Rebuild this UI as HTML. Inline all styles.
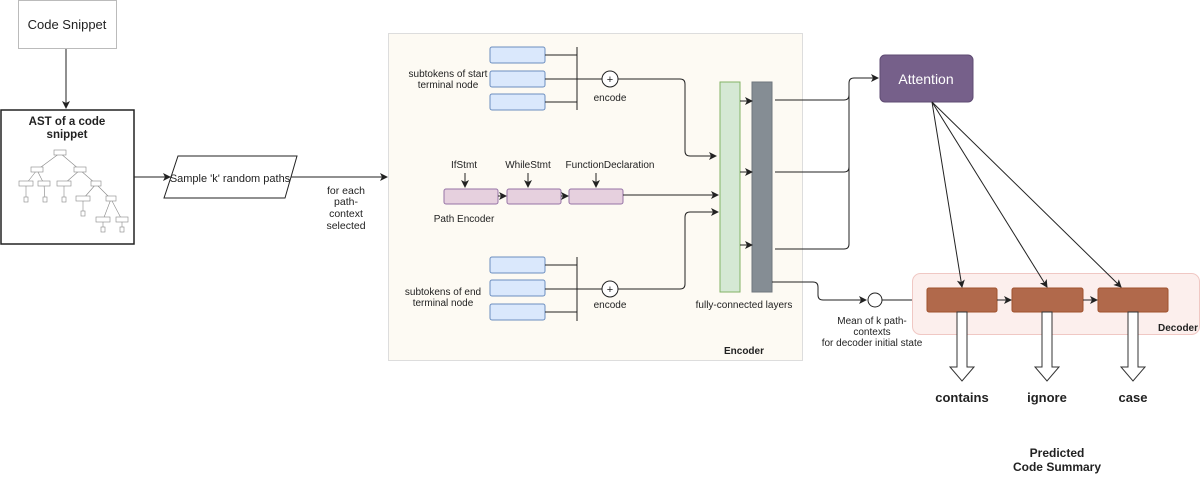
<!DOCTYPE html>
<html><head><meta charset="utf-8"><style>
body{margin:0;background:#fff}
text{font-family:"Liberation Sans",sans-serif;fill:#222}
</style></head><body>
<svg width="1200" height="477" viewBox="0 0 1200 477" xmlns="http://www.w3.org/2000/svg">
<defs>
<marker id="a" markerWidth="8" markerHeight="8" refX="7" refY="4" orient="auto" markerUnits="userSpaceOnUse"><path d="M0,0 L8,4 L0,8 L2,4z" fill="#222"/></marker>
</defs>
<!-- Code snippet -->
<rect x="18.5" y="0.5" width="98" height="48" fill="#fff" stroke="#bbb"/>
<text x="67" y="29" font-size="13" text-anchor="middle">Code Snippet</text>
<line x1="66" y1="49" x2="66" y2="108" stroke="#222" marker-end="url(#a)"/>
<!-- AST -->
<rect x="1" y="110" width="133" height="134" fill="#fff" stroke="#222" stroke-width="1.5"/>
<text x="67" y="125" font-size="11.5" font-weight="bold" text-anchor="middle">AST of a code</text>
<text x="67" y="138" font-size="11.5" font-weight="bold" text-anchor="middle">snippet</text>
<g stroke="#888" stroke-width="0.6" fill="#fff">
<line x1="60" y1="153" x2="37" y2="170"/><line x1="60" y1="153" x2="80" y2="170"/>
<line x1="37" y1="170" x2="26" y2="184"/><line x1="37" y1="170" x2="44" y2="184"/>
<line x1="80" y1="170" x2="64" y2="184"/><line x1="80" y1="170" x2="96" y2="184"/>
<line x1="26" y1="184" x2="26" y2="200"/><line x1="44" y1="184" x2="45" y2="200"/><line x1="64" y1="184" x2="64" y2="200"/>
<line x1="96" y1="184" x2="83" y2="199"/><line x1="96" y1="184" x2="111" y2="199"/>
<line x1="83" y1="199" x2="83" y2="213"/><line x1="111" y1="199" x2="103" y2="220"/><line x1="111" y1="199" x2="122" y2="220"/>
<line x1="103" y1="220" x2="103" y2="230"/><line x1="122" y1="220" x2="122" y2="230"/>
<rect x="54" y="150" width="12" height="5"/><rect x="31" y="167" width="12" height="5"/><rect x="74" y="167" width="12" height="5"/>
<rect x="19" y="181" width="14" height="5"/><rect x="38" y="181" width="12" height="5"/><rect x="57" y="181" width="14" height="5"/><rect x="91" y="181" width="10" height="5"/>
<rect x="24" y="197" width="4" height="5"/><rect x="43" y="197" width="4" height="5"/><rect x="62" y="197" width="4" height="5"/>
<rect x="76" y="196" width="14" height="5"/><rect x="106" y="196" width="10" height="5"/>
<rect x="81" y="211" width="4" height="5"/><rect x="96" y="217" width="14" height="5"/><rect x="116" y="217" width="12" height="5"/>
<rect x="101" y="227" width="4" height="5"/><rect x="120" y="227" width="4" height="5"/>
</g>
<line x1="134" y1="177" x2="170" y2="177" stroke="#222" marker-end="url(#a)"/>
<polygon points="178,156 297,156 285,198 164,198" fill="#fff" stroke="#222"/>
<text x="230" y="182" font-size="11" text-anchor="middle">Sample 'k' random paths</text>
<line x1="291" y1="177" x2="387" y2="177" stroke="#222" marker-end="url(#a)"/>
<g font-size="10.5" text-anchor="middle"><text x="346" y="194">for each</text><text x="346" y="205">path-</text><text x="346" y="217">context</text><text x="346" y="229">selected</text></g>
<!-- Encoder -->
<rect x="388.5" y="33.5" width="414" height="327" fill="#fdfaf3" stroke="#ddd"/>
<g fill="#dae8fc" stroke="#6c8ebf">
<rect x="490" y="47" width="55" height="16" rx="2"/><rect x="490" y="71" width="55" height="16" rx="2"/><rect x="490" y="94" width="55" height="16" rx="2"/>
<rect x="490" y="257" width="55" height="16" rx="2"/><rect x="490" y="280" width="55" height="16" rx="2"/><rect x="490" y="304" width="55" height="16" rx="2"/>
</g>
<g stroke="#222" fill="none">
<line x1="577" y1="47" x2="577" y2="110"/><line x1="545" y1="55" x2="577" y2="55"/><line x1="545" y1="79" x2="602" y2="79"/><line x1="545" y1="102" x2="577" y2="102"/>
<line x1="577" y1="257" x2="577" y2="321"/><line x1="545" y1="265" x2="577" y2="265"/><line x1="545" y1="289" x2="602" y2="289"/><line x1="545" y1="312" x2="577" y2="312"/>
<path d="M618,79 H680 Q685,79 685,84 V151 Q685,156 690,156 H716" marker-end="url(#a)"/>
<path d="M618,289 H680 Q685,289 685,284 V217 Q685,212 690,212 H718" marker-end="url(#a)"/>
<circle cx="610" cy="79" r="8" fill="#fff"/><circle cx="610" cy="289" r="8" fill="#fff"/>
</g>
<text x="610" y="83" font-size="11" text-anchor="middle">+</text><text x="610" y="293" font-size="11" text-anchor="middle">+</text>
<g font-size="10" text-anchor="middle">
<text x="610" y="101">encode</text><text x="610" y="308">encode</text>
<text x="448" y="77">subtokens of  start</text><text x="448" y="88">terminal node</text>
<text x="443" y="295">subtokens of end</text><text x="443" y="306">terminal node</text>
<text x="464" y="168">IfStmt</text><text x="528" y="168">WhileStmt</text><text x="610" y="168">FunctionDeclaration</text>
<text x="464" y="222">Path Encoder</text>
<text x="744" y="308">fully-connected layers</text>
</g>
<g fill="#e6d0de" stroke="#9673a6">
<rect x="444" y="189" width="54" height="15" rx="2"/><rect x="507" y="189" width="54" height="15" rx="2"/><rect x="569" y="189" width="54" height="15" rx="2"/>
</g>
<g stroke="#222">
<line x1="465" y1="173" x2="465" y2="187" marker-end="url(#a)"/><line x1="528" y1="173" x2="528" y2="187" marker-end="url(#a)"/><line x1="596" y1="173" x2="596" y2="187" marker-end="url(#a)"/>
<line x1="498" y1="196" x2="506" y2="196" marker-end="url(#a)"/><line x1="561" y1="196" x2="568" y2="196" marker-end="url(#a)"/>
<line x1="623" y1="195" x2="718" y2="195" marker-end="url(#a)"/>
</g>
<rect x="720" y="82" width="20" height="210" fill="#d5e8d4" stroke="#82b366"/>
<rect x="752" y="82" width="20" height="210" fill="#858d94" stroke="#6f777e"/>
<g stroke="#222">
<line x1="740" y1="101" x2="752" y2="101" marker-end="url(#a)"/><line x1="740" y1="172" x2="752" y2="172" marker-end="url(#a)"/><line x1="740" y1="245" x2="752" y2="245" marker-end="url(#a)"/>
</g>
<text x="744" y="354" font-size="10" font-weight="bold" text-anchor="middle">Encoder</text>
<!-- to attention -->
<g stroke="#222" fill="none">
<path d="M775,100 H844 Q849,100 849,95 V83 Q849,78 854,78 H878" marker-end="url(#a)"/>
<path d="M775,172 H844 Q849,172 849,167 V95"/>
<path d="M775,249 H844 Q849,249 849,244 V167"/>
<path d="M772,282 H813 Q818,282 818,287 V295 Q818,300 823,300 H866" marker-end="url(#a)"/>
<line x1="882" y1="300" x2="926" y2="300" marker-end="url(#a)"/>
</g>
<rect x="912.5" y="273.5" width="287" height="61" rx="8" fill="#fcefed" stroke="#f0c8c4"/>
<circle cx="875" cy="300" r="7" fill="#fff" stroke="#222"/>
<rect x="880" y="55" width="93" height="47" rx="5" fill="#76608a" stroke="#5f4b73"/>
<text x="926" y="84" font-size="14" text-anchor="middle" style="fill:#fff">Attention</text>
<g fill="#b1694b" stroke="#a0522d">
<rect x="927" y="288" width="70" height="24" rx="2"/><rect x="1012" y="288" width="71" height="24" rx="2"/><rect x="1098" y="288" width="70" height="24" rx="2"/>
</g>
<g stroke="#222">
<line x1="997" y1="300" x2="1011" y2="300" marker-end="url(#a)"/><line x1="1083" y1="300" x2="1097" y2="300" marker-end="url(#a)"/>
<line x1="932" y1="102" x2="962" y2="287" marker-end="url(#a)"/>
<line x1="932" y1="102" x2="1047" y2="287" marker-end="url(#a)"/>
<line x1="932" y1="102" x2="1121" y2="287" marker-end="url(#a)"/>
</g>
<text x="1178" y="331" font-size="10" font-weight="bold" text-anchor="middle">Decoder</text>
<g font-size="10" text-anchor="middle"><text x="872" y="324">Mean of k path-</text><text x="872" y="335">contexts</text><text x="872" y="346">for decoder initial state</text></g>
<g fill="#fff" stroke="#333">
<path d="M957,312 H967 V367 H974 L962,381 L950,367 H957Z"/>
<path d="M1042,312 H1052 V367 H1059 L1047,381 L1035,367 H1042Z"/>
<path d="M1128,312 H1138 V367 H1145 L1133,381 L1121,367 H1128Z"/>
</g>
<g font-size="13" font-weight="bold" text-anchor="middle">
<text x="962" y="402">contains</text><text x="1047" y="402">ignore</text><text x="1133" y="402">case</text>
</g>
<g font-size="12" font-weight="bold" text-anchor="middle"><text x="1057" y="457">Predicted</text><text x="1057" y="471">Code Summary</text></g>
</svg>
</body></html>
